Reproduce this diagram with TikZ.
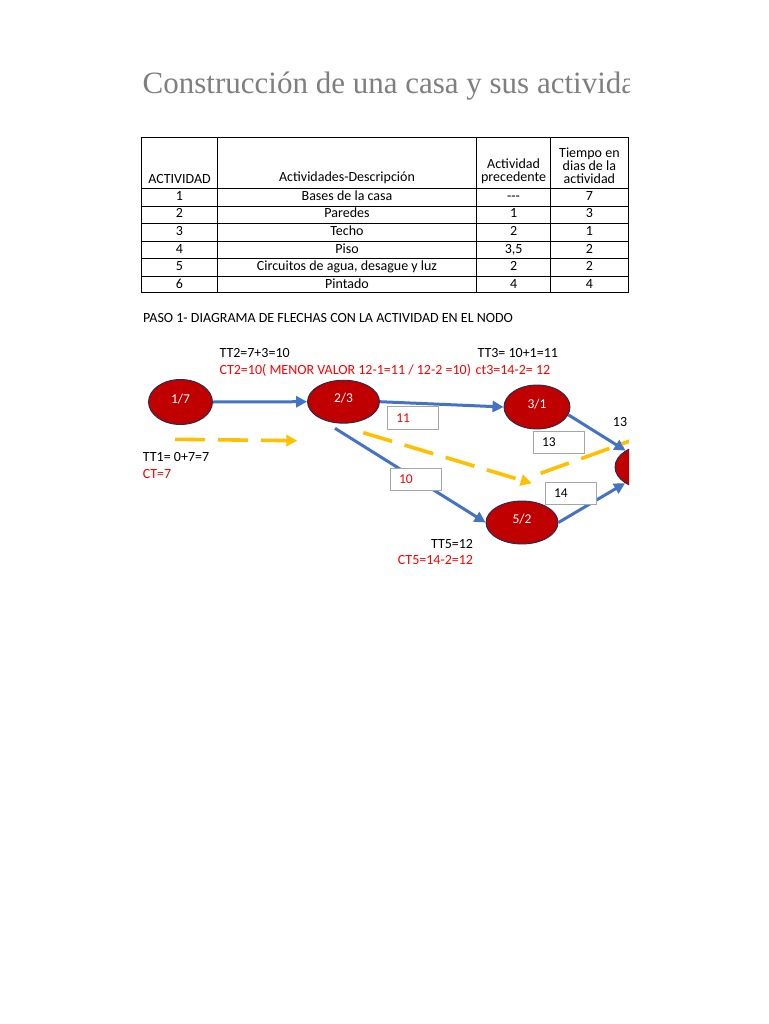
\documentclass[tikz,border=0pt]{standalone}
\usepackage{fontspec}
\setmainfont{Carlito}
\newfontfamily\titlefont{Liberation Serif}
\usetikzlibrary{shapes.geometric,arrows.meta}
\definecolor{nodered}{HTML}{C00000}
\definecolor{nodeline}{HTML}{1F2D4F}
\definecolor{arrowblue}{HTML}{4472C4}
\definecolor{dashyellow}{HTML}{FFC000}
\definecolor{boxgray}{HTML}{A6A6A6}
\definecolor{titlegray}{HTML}{7F7F7F}
\definecolor{txtred}{HTML}{FF0000}
\begin{document}
\begin{tikzpicture}[x=1pt,y=-1pt,
 txt/.style={inner sep=0pt, font=\fontsize{14}{16}\selectfont},
 cell/.style={inner sep=0pt, anchor=base, font=\fontsize{14}{16}\selectfont},
 hdr/.style={inner sep=0pt, anchor=south, align=center, font=\fontsize{14}{13.2}\selectfont},
 actnode/.style={ellipse, draw=nodeline, line width=0.9pt, fill=nodered, text=white, inner sep=0pt, font=\fontsize{13.5}{15}\selectfont, text height=10pt, text depth=8pt},
 numbox/.style={draw=boxgray, line width=0.9pt, fill=white, inner xsep=9pt, inner ysep=0pt, text width=33pt, align=left, minimum height=22.6pt, font=\fontsize{13.5}{15}\selectfont, anchor=north west, outer sep=0pt},
 bluearrow/.style={draw=arrowblue, line width=3pt, -{Triangle[length=11pt,width=11pt]}},
 yellowarrow/.style={draw=dashyellow, line width=3.6pt, dash pattern=on 30pt off 13pt},
 yellowtip/.style={-{Triangle[length=11pt,width=11pt]}},
 gridline/.style={draw=black, line width=0.9pt},
]
\useasboundingbox (0,0) rectangle (768,1024);
\fill[white] (0,0) rectangle (768,1024);
\begin{scope}
\clip (0,0) rectangle (629,1024);
% title
\node[anchor=base west, inner sep=0pt, text=titlegray, font={\titlefont\fontsize{31}{35}\selectfont}] (title) at (142.5,93.3) {Construcción de una casa y sus actividades};
% table
\draw[gridline] (141.7,137) rectangle (628.3,292.5);
\foreach \xx in {217.3,476.7,550.5} \draw[gridline] (\xx,137) -- (\xx,292.5);
\foreach \yy in {188.3,206,223.5,241,258.5,276} \draw[gridline] (141.7,\yy) -- (628.3,\yy);
\node[hdr] (h1) at (179.5,183.8) {ACTIVIDAD};
\node[hdr] (h2) at (347,183.8) {Actividades-Descripción};
\node[hdr] (h3) at (513.6,183.8) {Actividad\\precedente};
\node[hdr] (h4) at (589.4,183.8) {Tiempo en\\dias de la\\actividad};
\node[cell] (r1a) at (179.5,200.2) {1};
\node[cell] (r1b) at (347,200.2) {Bases de la casa};
\node[cell] (r1c) at (513.6,200.2) {{-}{-}{-}};
\node[cell] (r1d) at (589.4,200.2) {7};
\node[cell] (r2a) at (179.5,217.8) {2};
\node[cell] (r2b) at (347,217.8) {Paredes};
\node[cell] (r2c) at (513.6,217.8) {1};
\node[cell] (r2d) at (589.4,217.8) {3};
\node[cell] (r3a) at (179.5,235.4) {3};
\node[cell] (r3b) at (347,235.4) {Techo};
\node[cell] (r3c) at (513.6,235.4) {2};
\node[cell] (r3d) at (589.4,235.4) {1};
\node[cell] (r4a) at (179.5,253) {4};
\node[cell] (r4b) at (347,253) {Piso};
\node[cell] (r4c) at (513.6,253) {3,5};
\node[cell] (r4d) at (589.4,253) {2};
\node[cell] (r5a) at (179.5,270.8) {5};
\node[cell] (r5b) at (347,270.8) {Circuitos de agua, desague y luz};
\node[cell] (r5c) at (513.6,270.8) {2};
\node[cell] (r5d) at (589.4,270.8) {2};
\node[cell] (r6a) at (179.5,288.3) {6};
\node[cell] (r6b) at (347,288.3) {Pintado};
\node[cell] (r6c) at (513.6,288.3) {4};
\node[cell] (r6d) at (589.4,288.3) {4};
% heading
\node[txt, anchor=base west] (paso) at (143,322) {PASO 1- DIAGRAMA DE FLECHAS CON LA ACTIVIDAD EN EL NODO};
% labels
\node[txt, anchor=base west] (tt2) at (219.3,357.2) {TT2=7+3=10};
\node[txt, anchor=base west, text=txtred] (ct2) at (219.3,374.5) {CT2=10( MENOR VALOR 12-1=11 / 12-2 =10)};
\node[txt, anchor=base west] (tt3) at (477.3,357.2) {TT3= 10+1=11};
\node[txt, anchor=base west, text=txtred] (ct3) at (475.5,374.5) {ct3=14-2= 12};
\node[txt, anchor=base west] (tt1) at (142.7,461) {TT1= 0+7=7};
\node[txt, anchor=base west, text=txtred] (ct1) at (142.7,478) {CT=7};
\node[txt, anchor=base east] (tt5) at (473.3,548) {TT5=12};
\node[txt, anchor=base east, text=txtred] (ct5) at (473.3,564) {CT5=14-2=12};
\node[txt, anchor=base] (l13) at (620,426.5) {13};
% activity nodes
\node[actnode, minimum width=64pt, minimum height=45pt] (n1) at (180.5,402) {1/7};
\node[actnode, minimum width=72pt, minimum height=43pt] (n2) at (343.5,401.7) {2/3};
\node[actnode, minimum width=66pt, minimum height=44pt] (n3) at (537,407) {3/1};
\node[actnode, minimum width=72pt, minimum height=43pt] (n5) at (522,522.5) {5/2};
\node[actnode, minimum width=68pt, minimum height=44pt] (n4) at (649,467) {};
% blue arrows
\draw[bluearrow] (n1.east) -- (n2.west);
\draw[bluearrow] (n2.east) -- (n3.west);
\coordinate (s25) at (335,428.3);
\draw[bluearrow] (s25) -- (n5.west);
\draw[bluearrow] (n3.-14) -- (n4.145);
\draw[bluearrow] (n5.east) -- (n4.214);
% yellow dashed arrows
\coordinate (ya1) at (175,439.3);
\coordinate (ya2) at (297.3,440.7);
\draw[yellowarrow, yellowtip] (ya1) -- (ya2);
\coordinate (yb1) at (363.3,432.7);
\coordinate (yb2) at (531.7,483.3);
\draw[yellowarrow, yellowtip] (yb1) -- (yb2);
\coordinate (yc1) at (540.7,473.3);
\coordinate (yc2) at (645,435.5);
\draw[yellowarrow] (yc1) -- (yc2);
% number boxes
\node[numbox, text=txtred] (b11) at (387.3,406.7) {11};
\node[numbox] (b13) at (533,431.3) {13};
\node[numbox, text=txtred] (b10) at (390,468.3) {10};
\node[numbox] (b14) at (545,482) {14};
\end{scope}
\end{tikzpicture}
\end{document}
